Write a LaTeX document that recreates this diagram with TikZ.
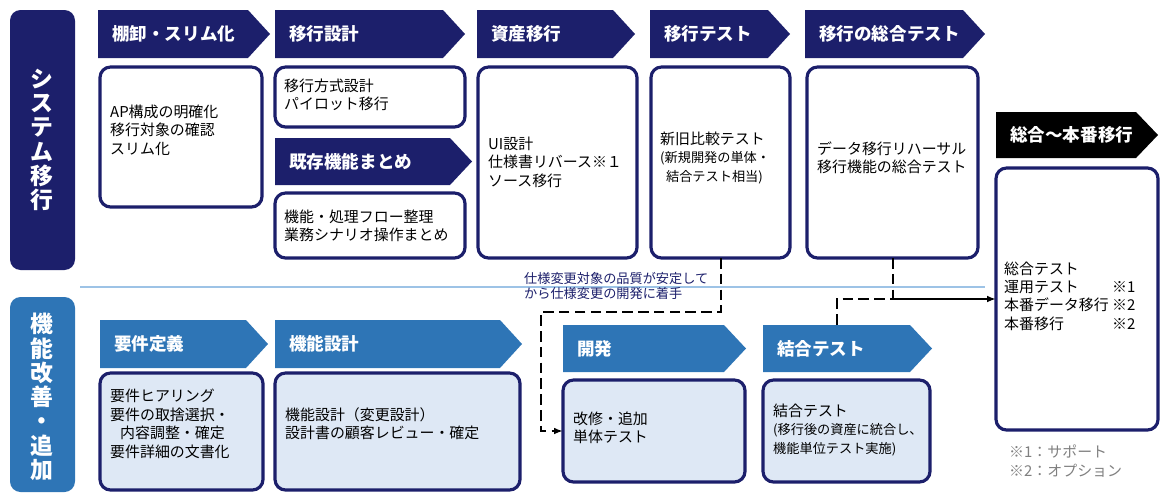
\documentclass[tikz,border=0pt]{standalone}
\usepackage{fontspec}
\setmainfont{Noto Sans CJK JP}
\usetikzlibrary{positioning,calc,arrows.meta}
\definecolor{navy}{HTML}{1C1F6B}
\definecolor{mblue}{HTML}{2E75B6}
\definecolor{lblue}{HTML}{DEE8F5}
\definecolor{sep}{HTML}{9DC3E6}
% chevron header: x1,y1,x2,y2,colour,name,text
\newcommand{\chev}[7]{%
  \fill[#5] (#1,#2) -- (#3-22,#2) -- (#3,{(#2+#4)/2}) -- (#3-22,#4) -- (#1,#4) -- cycle;
  \node[hdr] (#6) at (#1+8,{(#2+#4)/2}) {#7};}
\begin{document}
\begin{tikzpicture}[x=0.02cm,y=-0.02cm,
  hdr/.style={anchor=west,text=white,font=\bfseries\fontsize{10}{12}\selectfont},
  body/.style={draw=navy,line width=1.8pt,rounded corners=6pt},
  txt/.style={anchor=west,align=left,font=\fontsize{8.5}{10.5}\selectfont},
  side/.style={rounded corners=6pt,text=white,font=\bfseries\fontsize{13}{13.8}\selectfont,align=center},
  flow/.style={line width=1.6pt,dashed,dash pattern=on 6pt off 3pt}]
\useasboundingbox (0,0) rectangle (1168,501);
% Side labels
\fill[navy,rounded corners=6pt] (10,10) rectangle (75,270);
\node[side] (sys) at (42,140) {シ\\ス\\テ\\ム\\移\\行};
\fill[mblue,rounded corners=6pt] (10,297) rectangle (75,492);
\node[side] (kino) at (42,397) {機\\能\\改\\善\\・\\追\\加};
\draw[sep,line width=0.6pt] (80,287) -- (985,287);
% System migration row
\chev{98}{10}{270}{58}{navy}{h1}{棚卸・スリム化}
\chev{275}{10}{465}{58}{navy}{h2}{移行設計}
\chev{477}{10}{635}{58}{navy}{h3}{資産移行}
\chev{650}{10}{790}{58}{navy}{h4}{移行テスト}
\chev{805}{10}{985}{58}{navy}{h5}{移行の総合テスト}
\chev{275}{138}{472}{185}{navy}{h6}{既存機能まとめ}
\chev{996}{112}{1158}{158}{black}{h7}{総合〜本番移行}
\draw[body,fill=white] (100,67) rectangle (262,207);
\node[txt] (b1) at (104,130) {AP構成の明確化\\移行対象の確認\\スリム化};
\draw[body,fill=white] (275,67) rectangle (465,127);
\node[txt] (b2) at (278,95) {移行方式設計\\パイロット移行};
\draw[body,fill=white] (275,193) rectangle (465,258);
\node[txt] (b3) at (278,226) {機能・処理フロー整理\\業務シナリオ操作まとめ};
\draw[body,fill=white] (478,67) rectangle (637,258);
\node[txt] (b4) at (482,162) {UI設計\\仕様書リバース※１\\ソース移行};
\draw[body,fill=white] (651,67) rectangle (790,258);
\node[txt] (b5) at (654,158) {新旧比較テスト\\{\fontsize{7.5}{9}\selectfont (新規開発の単体・}\\{\fontsize{7.5}{9}\selectfont \ \ 結合テスト相当)}};
\draw[body,fill=white] (807,67) rectangle (978,258);
\node[txt] (b6) at (811,158) {データ移行リハーサル\\移行機能の総合テスト};
\draw[body,fill=white] (996,168) rectangle (1158,430);
\node[txt] (b7) at (998,298) {\begin{tabular}{@{}l@{\ }r@{}}総合テスト&\\運用テスト&※1\\本番データ移行&※2\\本番移行&※2\end{tabular}};
\node[txt,text=gray] (note) at (1003,461) {※1：サポート\\※2：オプション};
% Function improvement row
\chev{100}{320}{268}{368}{mblue}{k1}{要件定義}
\chev{275}{320}{522}{368}{mblue}{k2}{機能設計}
\chev{563}{325}{746}{372}{mblue}{k3}{開発}
\chev{763}{325}{932}{372}{mblue}{k4}{結合テスト}
\draw[body,fill=lblue] (100,373) rectangle (263,490);
\node[txt] (c1) at (104,424) {要件ヒアリング\\要件の取捨選択・\\\ \ \ 内容調整・確定\\要件詳細の文書化};
\draw[body,fill=lblue] (275,373) rectangle (520,490);
\node[txt] (c2) at (279,424) {機能設計（変更設計）\\設計書の顧客レビュー・確定};
\draw[body,fill=lblue] (563,380) rectangle (745,482);
\node[txt] (c3) at (567,428) {改修・追加\\単体テスト};
\draw[body,fill=lblue] (763,380) rectangle (930,482);
\node[txt] (c4) at (767,430) {結合テスト\\{\fontsize{7.5}{9}\selectfont (移行後の資産に統合し、}\\{\fontsize{7.5}{9}\selectfont 機能単位テスト実施)}};
\node[txt,text=navy,font=\fontsize{7.5}{9}\selectfont] (memo) at (518,286) {仕様変更対象の品質が安定して\\から仕様変更の開発に着手};
% Connectors
\coordinate (t4) at (721,258);
\coordinate (t5) at (893,258);
\coordinate (j) at (893,299);
\draw[flow,-{Latex[length=5pt]}] (t4) -- (721,312) -- (541,312) -- (541,431) -- (563,431);
\draw[flow] (t5) -- (j);
\draw[flow] (837,325) -- (837,299) -- (j);
\draw[line width=1.6pt,-{Latex[length=5pt]}] (j) -- (996,299);
\end{tikzpicture}
\end{document}
